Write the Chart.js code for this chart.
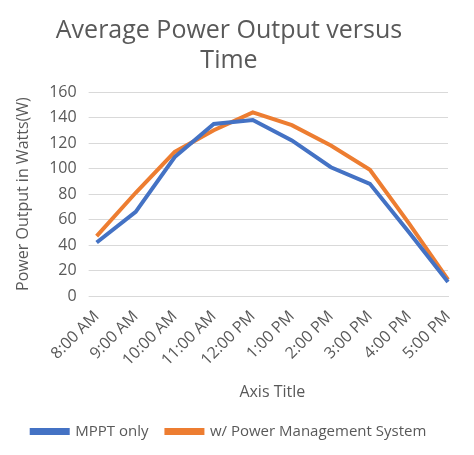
<!DOCTYPE html>
<html><head><meta charset="utf-8">
<script src="https://cdn.jsdelivr.net/npm/chart.js@4/dist/chart.umd.min.js"></script>
<style>html,body{margin:0;background:#fff}#w{width:474px;height:455px}</style>
</head><body><div id="w"><canvas id="c"></canvas></div>
<script>
var labels = ['8:00 AM','9:00 AM','10:00 AM','11:00 AM','12:00 PM','1:00 PM','2:00 PM','3:00 PM','4:00 PM','5:00 PM'];
var mppt = [42, 66, 109, 135, 138, 122, 101, 88, 50, 11];
var pms = [47, 81, 113, 130, 144, 134, 118, 99, 57, 13];
var txt = '#595959', grid = '#d9d9d9';
var ff = '"Open Sans", sans-serif';
new Chart(document.getElementById('c'), {
  type: 'line',
  data: { labels: labels, datasets: [
    { label: 'MPPT only', data: mppt, borderColor: '#4472c4', backgroundColor: '#4472c4', borderWidth: 4, pointRadius: 0, tension: 0 },
    { label: 'w/ Power Management System', data: pms, borderColor: '#ed7d31', backgroundColor: '#ed7d31', borderWidth: 4, pointRadius: 0, tension: 0 }
  ]},
  options: {
    responsive: true, maintainAspectRatio: false, animation: false,
    layout: { padding: { left: 10, right: 26, top: 2, bottom: 6 } },
    plugins: {
      title: { display: true, text: ['Average Power Output versus', 'Time'], color: txt,
        font: { family: ff, size: 25, weight: 'normal' }, padding: { top: 14, bottom: 16 } },
      legend: { position: 'bottom', labels: { color: txt, boxWidth: 36, boxHeight: 3, padding: 18,
        font: { family: ff, size: 15 } } }
    },
    scales: {
      x: { grid: { display: false }, border: { color: grid },
        ticks: { color: txt, maxRotation: 45, minRotation: 45, font: { family: ff, size: 16 } },
        title: { display: true, text: 'Axis Title', color: txt, padding: { top: 10 }, font: { family: ff, size: 16 } } },
      y: { min: 0, max: 160, grid: { color: grid }, border: { display: false },
        ticks: { stepSize: 20, color: txt, padding: 12, font: { family: ff, size: 16 } },
        title: { display: true, text: 'Power Output in Watts(W)', color: txt, font: { family: ff, size: 16 } } }
    }
  }
});
</script></body></html>
